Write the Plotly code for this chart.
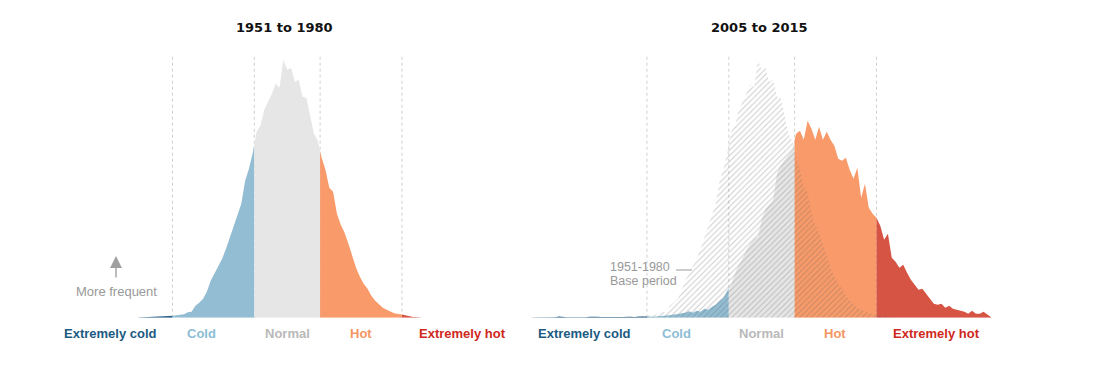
import numpy as np
import plotly.graph_objects as go

# ---------------- data ----------------
categories = ["Extremely cold", "Cold", "Normal", "Hot", "Extremely hot"]
thresholds = [-1.5, -0.43, 0.43, 1.5]          # standard deviations
titles = ["1951 to 1980", "2005 to 2015"]

# 1951-1980 distribution, x in standard deviations (step 0.05 from -1.95)
base_x = np.round(np.arange(-1.95, 1.751, 0.05), 2)
base_y = [0.3, 0.4, 0.5, 0.7, 0.8, 1.0, 1.3, 1.4, 1.7, 2.0,
          2.4, 2.8, 3.5, 5.5, 6.0, 12, 15, 19, 26, 37,
          44, 51, 59, 69, 80, 93, 104, 114, 137, 149,
          165, 186, 192, 208, 216, 224, 234, 230, 258, 248,
          250, 236, 238, 221, 220, 203, 184, 177, 160, 148,
          130, 126, 104, 93, 85, 74, 61, 50, 41, 34,
          29, 22, 17, 13, 10, 8, 6, 4.5, 3.8, 3.2,
          2, 1.4, 0.8, 0.5, 0.2]

# 2005-2015 distribution (step 0.05 from -3)
recent_x = np.round(np.arange(-3.0, 3.001, 0.05), 2)
recent_y = [0.3, 0.3, 0.3, 0.4, 0.4, 0.5, 0.4, 1.2, 0.5, 0.4,
            0.5, 0.4, 0.5, 0.6, 0.5, 1.0, 0.6, 0.9, 0.6, 0.5,
            1.0, 0.6, 0.6, 0.8, 0.6, 1.0, 0.7, 0.8, 1.2, 1.3,
            1.2, 0.8, 1.0, 1.5, 1.7, 2.2, 2.5, 3.3, 3.5, 4.5,
            5, 6.5, 5, 7, 6, 9, 8, 11, 13, 17,
            20, 27, 33, 44, 53, 59, 68, 74, 79, 81,
            98, 109, 114, 118, 144, 153, 158, 163, 168, 184,
            187, 178, 197, 189, 178, 191, 178, 186, 178, 172,
            159, 157, 160, 148, 139, 150, 120, 134, 110, 104,
            100, 92, 78, 84, 60, 56, 50, 53, 45, 38,
            33, 28, 29, 24, 20, 14, 13, 14, 10, 12,
            9, 8, 7, 6, 4, 7, 4, 4, 6, 3,
            0.5]

# ---------------- styles ----------------
fill_colors = ["#245d87", "#92bdd3", "#e6e6e6", "#f89a69", "#d65443"]
label_colors = ["#1b5a82", "#8dbdd5", "#b9b9b9", "#f49663", "#d0281d"]
label_pos = [-2.31, -1.12, 0.0, 0.96, 2.29]

# page body has an 8px margin; figure fits inside the window
OFF = 8
W, H = 1094 - 2 * OFF, 370 - 2 * OFF


def px(xp):
    return (xp - OFF) / W


def py(yp):
    return 1 - (yp - OFF) / H


BASE_PX = 317.7
TOP_PX = 47.7
YMAX = BASE_PX - TOP_PX
dom_left = [px(57.7), px(516.7)]
dom_right = [px(532.2), px(991.2)]
ydom = [py(BASE_PX), py(TOP_PX)]

fig = go.Figure()


def add_bands(x, y, xa, ya):
    x = np.asarray(x, float)
    y = np.asarray(y, float)
    edges = [-np.inf] + thresholds + [np.inf]
    for i in range(5):
        lo = max(edges[i], x[0])
        hi = min(edges[i + 1], x[-1])
        if hi <= lo:
            continue
        m = (x > lo) & (x < hi)
        xs = np.concatenate([[lo], x[m], [hi]])
        ys = np.concatenate([[np.interp(lo, x, y)], y[m], [np.interp(hi, x, y)]])
        fig.add_trace(go.Scatter(
            x=xs, y=ys, mode="lines", fill="tozeroy",
            line=dict(width=0, color=fill_colors[i]),
            fillcolor=fill_colors[i], hoverinfo="skip",
            showlegend=False, xaxis=xa, yaxis=ya))


add_bands(base_x, base_y, "x", "y")
add_bands(recent_x, recent_y, "x2", "y2")

# hatched base period on the right panel
fig.add_trace(go.Scatter(
    x=base_x, y=base_y, mode="lines", fill="tozeroy",
    line=dict(width=0, color="rgba(0,0,0,0)"),
    fillcolor="rgba(0,0,0,0)",
    fillpattern=dict(shape="/", fgcolor="rgba(95,95,95,0.6)",
                     bgcolor="rgba(0,0,0,0)", size=4, solidity=0.28),
    hoverinfo="skip", showlegend=False, xaxis="x2", yaxis="y2"))

ax_common = dict(range=[-3, 3], showgrid=False, zeroline=False,
                 showticklabels=False, showline=False, ticks="",
                 fixedrange=True)
ay_common = dict(range=[0, YMAX], domain=ydom, showgrid=False,
                 zeroline=False, showticklabels=False, showline=False,
                 ticks="", fixedrange=True)

fig.update_layout(
    width=W, height=H,
    margin=dict(l=0, r=0, t=0, b=0),
    paper_bgcolor="white", plot_bgcolor="rgba(0,0,0,0)",
    xaxis=dict(domain=dom_left, **ax_common),
    yaxis=dict(anchor="x", **ay_common),
    xaxis2=dict(domain=dom_right, anchor="y2", **ax_common),
    yaxis2=dict(anchor="x2", **ay_common),
    showlegend=False,
)

shapes = []
ann = []
label_font = "Liberation Sans, Arial, sans-serif"
for k, (xa, ya) in enumerate([("x", "y"), ("x2", "y2")]):
    for t in thresholds:
        shapes.append(dict(type="line", xref=xa, yref=ya, x0=t, x1=t,
                           y0=0, y1=BASE_PX - 55, layer="below",
                           line=dict(color="#cfcfcf", width=1, dash="dot")))
    for i, c in enumerate(categories):
        ann.append(dict(xref=xa, yref="paper", x=label_pos[i], y=py(333),
                        text=c, showarrow=False, xanchor="center",
                        yanchor="middle",
                        font=dict(family=label_font, size=13, color=label_colors[i],
                                  weight="bold")))
    ann.append(dict(xref=xa, yref="paper", x=-0.03, y=py(27),
                    text=titles[k], showarrow=False, xanchor="center",
                    yanchor="middle",
                    font=dict(family="DejaVu Sans", size=13, color="#111",
                              weight="bold")))

# "More frequent" arrow and label
ann.append(dict(xref="paper", yref="paper", x=px(116), y=py(256),
                ax=0, ay=23, text="", showarrow=True, arrowhead=2,
                arrowsize=1.7, arrowwidth=1.4, arrowcolor="#a0a0a0"))
ann.append(dict(xref="paper", yref="paper", x=px(116), y=py(291),
                text="More frequent", showarrow=False, xanchor="center",
                yanchor="middle",
                font=dict(family=label_font, size=13, color="#999")))
# base period note
ann.append(dict(xref="paper", yref="paper", x=px(608), y=py(267),
                text="1951-1980", showarrow=False, xanchor="left",
                yanchor="middle",
                font=dict(family=label_font, size=12.5, color="#999")))
ann.append(dict(xref="paper", yref="paper", x=px(608), y=py(281),
                text="Base period", showarrow=False, xanchor="left",
                yanchor="middle",
                font=dict(family=label_font, size=12.5, color="#999")))
shapes.append(dict(type="line", xref="paper", yref="paper",
                   x0=px(676), x1=px(692), y0=py(270), y1=py(270),
                   line=dict(color="#999", width=1)))

fig.update_layout(shapes=shapes, annotations=ann)
fig.write_html("out.html")
